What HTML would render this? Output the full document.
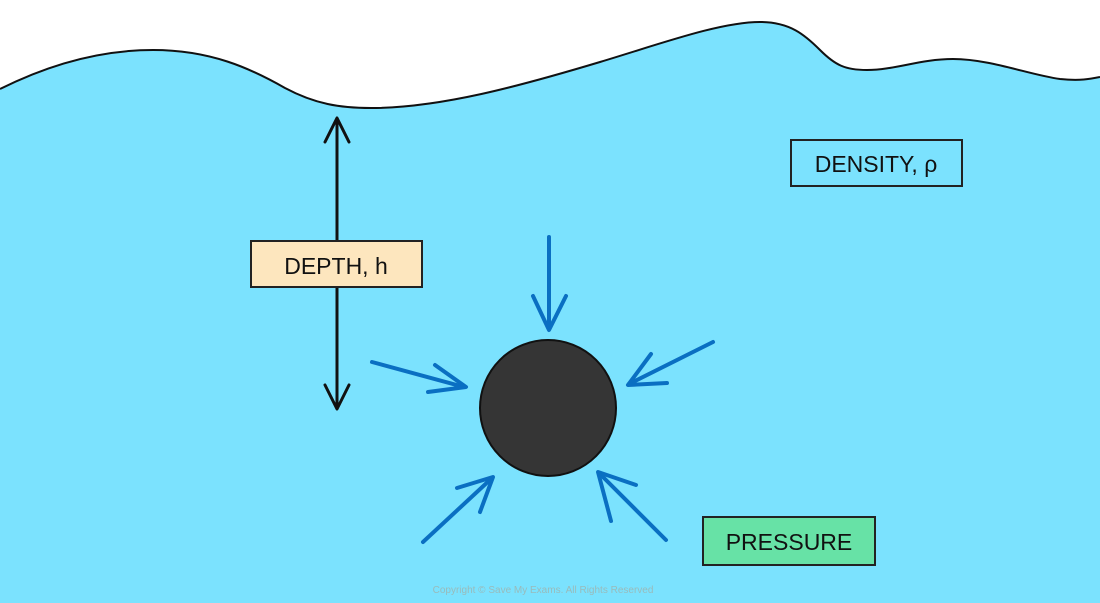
<!DOCTYPE html>
<html><head><style>
body{margin:0;width:1100px;height:603px;overflow:hidden;background:#7be2fe}
svg{display:block}
text{font-family:"Liberation Sans",sans-serif}
</style></head><body>
<svg width="1100" height="603" viewBox="0 0 1100 603">
<defs><path id="w" d="M0,89 C50,64 100,50 153,50 C210,50 250,68 285,88 C315,104 340,108 371,108 C440,108 520,86 600,62 C660,44 720,22 760,22 C790,22 805,35 820,50 C835,65 845,70 867,70 C895,70 920,59 953,59 C990,59 1030,75 1060,79 C1080,81 1090,79 1100,77"/></defs>
<rect width="1100" height="603" fill="#7be2fe"/>
<path d="M0,89 C50,64 100,50 153,50 C210,50 250,68 285,88 C315,104 340,108 371,108 C440,108 520,86 600,62 C660,44 720,22 760,22 C790,22 805,35 820,50 C835,65 845,70 867,70 C895,70 920,59 953,59 C990,59 1030,75 1060,79 C1080,81 1090,79 1100,77 L1100,0 L0,0 Z" fill="#fff"/>
<use href="#w" fill="none" stroke="#111" stroke-width="2"/>
<g fill="none" stroke="#111" stroke-width="3" stroke-linecap="round" stroke-linejoin="round">
<line x1="337" y1="120" x2="337" y2="407"/>
<polyline points="325,142 337,118 349,142"/>
<polyline points="325,385 337,409 349,385"/>
</g>
<rect x="251" y="241" width="171" height="46" fill="#fde6be" stroke="#222" stroke-width="2"/>
<text x="336" y="274" font-size="23" text-anchor="middle" fill="#111">DEPTH, h</text>
<rect x="791" y="140" width="171" height="46" fill="none" stroke="#222" stroke-width="2"/>
<text x="876" y="172" font-size="23" text-anchor="middle" fill="#111">DENSITY, ρ</text>
<rect x="703" y="517" width="172" height="48" fill="#67e2a6" stroke="#222" stroke-width="2"/>
<text x="789" y="550" font-size="23" text-anchor="middle" fill="#111">PRESSURE</text>
<circle cx="548" cy="408" r="68" fill="#353535" stroke="#111" stroke-width="2"/>
<g fill="none" stroke="#0a6fc2" stroke-width="4" stroke-linecap="round" stroke-linejoin="round">
<line x1="549" y1="237" x2="549" y2="329"/><polyline points="533,296 549,330 566,296"/>
<line x1="372" y1="362" x2="464" y2="387"/><polyline points="435,365 466,387 428,392"/>
<line x1="713" y1="342" x2="629" y2="384"/><polyline points="651,354 628,385 667,383"/>
<line x1="423" y1="542" x2="492" y2="478"/><polyline points="457,488 493,477 480,512"/>
<line x1="666" y1="540" x2="599" y2="473"/><polyline points="636,485 598,472 611,521"/>
</g>
<text x="543" y="593" font-size="10" text-anchor="middle" fill="#9bb">Copyright © Save My Exams. All Rights Reserved</text>
</svg>
</body></html>
